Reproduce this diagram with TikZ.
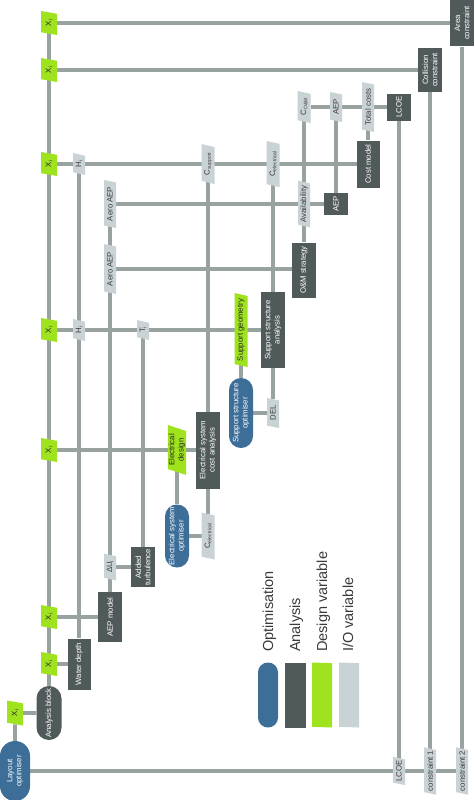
\documentclass[tikz,border=0pt]{standalone}
\usepackage{fontspec}
\setmainfont{Liberation Sans}
\usetikzlibrary{shapes.geometric,backgrounds}
\definecolor{optblue}{HTML}{3D6E98}
\definecolor{anagray}{HTML}{515A5B}
\definecolor{desgreen}{HTML}{9FE31E}
\definecolor{iogray}{HTML}{C9D3D6}
\definecolor{linegray}{HTML}{97A2A1}
\definecolor{txtdark}{HTML}{3A3A3A}
\newcommand\sbs[1]{\raisebox{-0.3ex}{\fontsize{5}{5}\selectfont #1}}
\begin{document}
\begin{tikzpicture}[x=1pt,y=-1pt,
  every node/.style={rotate=90, font=\fontsize{7.8}{9.2}\selectfont, align=center, inner sep=1pt},
  optim/.style={shape=rectangle, fill=optblue, text=white, rounded corners=#1},
  optim/.default=11.9pt,
  anapill/.style={shape=rectangle, fill=anagray, text=white, rounded corners=12.4pt},
  ana/.style={shape=rectangle, fill=anagray, text=white},
  para/.style={shape=trapezium, trapezium left angle=72, trapezium right angle=108, trapezium stretches body=true},
  des/.style={para, fill=desgreen, text=black!85},
  io/.style={para, fill=iogray, text=txtdark},
  sz/.style 2 args={minimum height=#1, minimum width=#2},
  conn/.style={draw=linegray, line width=3.6pt},
  legtxt/.style={font=\fontsize{14.5}{16}\selectfont, text=txtdark, inner sep=0pt, anchor=base west}
]
\useasboundingbox (0,0) rectangle (474,800);
% diagonal components
\node[optim=14.9pt, sz={30}{60}] (lo) at (15,771) {Layout\\optimiser};
\node[des, sz={16}{25}] (xlo) at (15,713) {X\sbs{i}};
\node[anapill, sz={25}{54}] (ab) at (49,713) {Analysis block};
\node[ana, sz={23}{51}] (wd) at (79,664) {Water depth};
\node[ana, sz={24}{50}] (aep) at (110,617) {AEP model};
\node[ana, sz={24}{40}] (at) at (143,567) {Added\\turbulence};
\node[optim, sz={24}{63}] (eso) at (177,536) {Electrical system\\optimiser};
\node[ana, sz={24}{77}] (esca) at (208,450) {Electrical system\\cost analysis};
\node[optim, sz={24}{70}] (sso) at (241,413) {Support structure\\optimiser};
\node[ana, sz={24}{76}] (ssa) at (273,330) {Support structure\\analysis};
\node[ana, sz={24}{55}] (om) at (304,270) {O\&M strategy};
\node[ana, sz={24}{22}] (aepb) at (336,204) {AEP};
\node[ana, sz={23}{47}] (cm) at (368,164) {Cost model};
\node[ana, sz={24}{27}] (lcoe) at (399,107) {LCOE};
\node[ana, sz={24}{44}] (cc) at (430,70) {Collision\\constraint};
\node[ana, sz={24}{47}] (ac) at (462,23) {Area\\constraint};
% design variables x_i
\node[des, sz={16}{24}] (x1) at (49,23) {X\sbs{i}};
\node[des, sz={16}{24}] (x2) at (49,70) {X\sbs{i}};
\node[des, sz={16}{24}] (x3) at (49,164) {X\sbs{i}};
\node[des, sz={16}{24}] (x4) at (49,330) {X\sbs{i}};
\node[des, sz={16}{24}] (x5) at (49,450) {X\sbs{i}};
\node[des, sz={16}{24}] (x6) at (49,617) {X\sbs{i}};
\node[des, sz={16}{24}] (x7) at (49,664) {X\sbs{i}};
% i/o variables
\node[io, sz={12}{22}] (h1) at (79,164) {H\sbs{i}};
\node[io, sz={12}{22}] (h2) at (79,330) {H\sbs{i}};
\node[io, sz={12}{48}] (ae1) at (110,204) {Aero AEP};
\node[io, sz={12}{50}] (ae2) at (110,269) {Aero AEP};
\node[io, sz={12}{20}] (ti) at (143,330) {T\sbs{i}};
\node[io, sz={12}{27}] (du) at (110,567) {ΔU\sbs{i}};
\node[des, sz={18}{50}] (ed) at (177,450) {Electrical\\design};
\node[io, sz={13}{47}] (ce2) at (208,536) {C\sbs{electrical}};
\node[io, sz={13}{40}] (cs) at (208,164) {C\sbs{support}};
\node[io, sz={13}{46}] (ce1) at (273,164) {C\sbs{electrical}};
\node[des, sz={13}{74}] (sg) at (241,330) {Support geometry};
\node[io, sz={12}{30}] (del) at (273,413) {DEL};
\node[io, sz={12}{47}] (av) at (304,204) {Availability};
\node[io, sz={13}{32}] (com) at (304,107) {C\sbs{O\&M}};
\node[io, sz={12}{30}] (aepo) at (336,107) {AEP};
\node[io, sz={12}{50}] (tc) at (368,107) {Total costs};
\node[io, sz={12}{26}] (lcoeo) at (399,771) {LCOE};
\node[io, sz={12}{47}] (c1) at (430,771) {constraint 1};
\node[io, sz={12}{46}] (c2) at (462,771) {constraint 2};
% legend
\node[optim=9.9pt, sz={20}{65}] (lg1) at (268,695) {};
\node[ana, sz={21}{65}] (lg2) at (295,695) {};
\node[des, sz={20}{65}] (lg3) at (322,695) {};
\node[io, sz={20}{65}] (lg4) at (349,695) {};
\node[legtxt] (lt1) at (273,652) {Optimisation};
\node[legtxt] (lt2) at (300,652) {Analysis};
\node[legtxt] (lt3) at (327,652) {Design variable};
\node[legtxt] (lt4) at (353,652) {I/O variable};
% connectors
\begin{scope}[on background layer]
\draw[conn] (lo) -- (xlo) -- (ab);
\draw[conn] (lo) -- (lo -| c2);
\draw[conn] (ab) -- (ab |- x1);
\draw[conn] (x1) -- (x1 -| ac);
\draw[conn] (x2) -- (x2 -| cc);
\draw[conn] (x3) -- (x3 -| cm);
\draw[conn] (x4) -- (x4 -| ssa);
\draw[conn] (x5) -- (x5 -| esca);
\draw[conn] (x6) -- (x6 -| aep);
\draw[conn] (x7) -- (x7 -| wd);
\draw[conn] (wd) -- (wd |- h1);
\draw[conn] (aep) -- (aep |- ae1);
\draw[conn] (du) -- (du -| at);
\draw[conn] (at) -- (at |- ti);
\draw[conn] (ae2) -- (ae2 -| om);
\draw[conn] (ae1) -- (ae1 -| aepb);
\draw[conn] (eso) -- (eso |- ed);
\draw[conn] (eso) -- (eso -| ce2);
\draw[conn] (ce2) -- (ce2 |- cs);
\draw[conn] (sso) -- (sso |- sg);
\draw[conn] (sso) -- (sso -| del);
\draw[conn] (del) -- (del |- ce1);
\draw[conn] (om) -- (om |- com);
\draw[conn] (aepb) -- (aepb |- aepo);
\draw[conn] (com) -- (com -| lcoe);
\draw[conn] (cm) -- (cm |- tc);
\draw[conn] (lcoe) -- (lcoe |- lcoeo);
\draw[conn] (cc) -- (cc |- c1);
\draw[conn] (ac) -- (ac |- c2);
\end{scope}
\end{tikzpicture}
\end{document}
